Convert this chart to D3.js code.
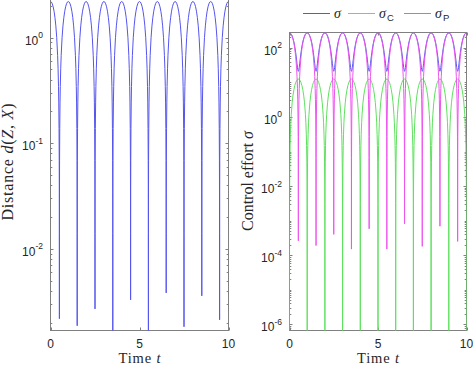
<!DOCTYPE html>
<html><head><meta charset="utf-8">
<script src="https://cdn.jsdelivr.net/npm/d3@7/dist/d3.min.js"></script>
<style>body{margin:0;background:#fff}svg{display:block}</style>
</head><body><svg id="c" width="474" height="366"></svg>
<script>
// ---------------- data ----------------
const xTicks = [0, 5, 10];
const leftYTicks = [-2, -1, 0];           // exponents of labelled decades
const rightYTicks = [-6, -4, -2, 0, 2];
const legendLabels = [["σ", ""], ["σ", "C"], ["σ", "P"]];

// dips of d and sigma_P happen at half-integer times
const halfDips = [0.5, 1.5, 2.5, 3.5, 4.5, 5.5, 6.5, 7.5, 8.5, 9.5];
// dips of sigma_C happen at integer times
const intDips = [0, 1, 2, 3, 4, 5, 6, 7, 8, 9, 10];

// distance from a dip (in t) at which the arch profiles are read
const halfOffsets = [0, 0.002, 0.005, 0.01, 0.02, 0.035, 0.05, 0.075, 0.1, 0.15, 0.2, 0.25, 0.3, 0.35, 0.4, 0.45, 0.5];
// left plot: distance d(Z,X) along a half arch (first entry replaced by the dip minimum)
const dProfile = [0, 0.0139, 0.0345, 0.0691, 0.138, 0.241, 0.344, 0.513, 0.680, 0.999, 1.294, 1.555, 1.780, 1.960, 2.092, 2.174, 2.2];
const dDipMin = [2.18e-3, 1.87e-3, 2.7e-3, 1.0e-3, 3.29e-3, 1.0e-3, 3.83e-3, 1.83e-3, 3.59e-3, 2.13e-3];
// right plot
const sigProfile  = [21, 21.01, 21.06, 21.25, 22.0, 24.0, 27.1, 34.7, 45.0, 72.7, 107.8, 146.5, 185.3, 220.3, 248, 266, 272];
const sigCProfile = [1e-8, 5e-4, 3.08e-3, 0.0123, 0.0493, 0.150, 0.306, 0.681, 1.19, 2.58, 4.32, 6.25, 8.18, 9.92, 11.3, 12.2, 12.5];
const sigPProfile = [0, 0.0108, 0.0670, 0.268, 1.07, 3.27, 6.65, 14.8, 26.0, 56.1, 94.0, 136, 178, 216, 246, 265.5, 272];
const sigPDipMin = [2.6e-4, 1.9e-4, 4.0e-4, 1.5e-4, 5.8e-4, 1.5e-4, 8.1e-4, 1.8e-4, 6.9e-4, 2.5e-4];

const colBlue = "#5555ee", colGreen = "#5fe05f", colMag = "#ee55ee";

// --------------- helpers ----------------
function arches(dips, profile, mins, tMin, tMax) {
  const pts = [];
  dips.forEach((tau, i) => {
    const m = mins ? mins[i] : profile[0];
    for (let j = halfOffsets.length - 1; j >= 0; j--) {
      const t = tau - halfOffsets[j];
      if (t < tMin - 1e-9) continue;
      pts.push([t, j === 0 ? m : profile[j]]);
    }
    for (let j = 1; j < halfOffsets.length; j++) {
      const t = tau + halfOffsets[j];
      if (t > tMax + 1e-9) continue;
      pts.push([t, profile[j]]);
    }
  });
  return pts.filter((p, k) => k === 0 || Math.abs(p[0] - pts[k - 1][0]) > 1e-9);
}

const svg = d3.select("#c");
const axisCol = "#808080", textCol = "#262626";

function panel(id, x0, x1, yTop, yBot, logMin, logMax, labelled, showTop) {
  const x = d3.scaleLinear().domain([0, 10]).range([x0, x1]);
  const y = d3.scaleLog().domain([Math.pow(10, logMin), Math.pow(10, logMax)]).range([yBot, yTop]);
  const g = svg.append("g");
  svg.append("clipPath").attr("id", id).append("rect")
    .attr("x", x0).attr("y", yTop).attr("width", x1 - x0).attr("height", yBot - yTop);
  g.append("rect").attr("x", x0).attr("y", yTop).attr("width", x1 - x0).attr("height", yBot - yTop)
    .attr("fill", "none").attr("stroke", axisCol).attr("stroke-width", 1);
  const lo = Math.floor(logMin), hi = Math.ceil(logMax);
  for (let e = lo; e <= hi; e++) {
    for (let m = 1; m <= 9; m++) {
      const v = m * Math.pow(10, e);
      const lv = Math.log10(v);
      if (lv < logMin || lv > logMax) continue;
      const major = m === 1 && labelled.includes(e);
      const len = major ? 3 : 1.8;
      const yy = Math.round(y(v)) + 0.5;
      g.append("line").attr("x1", x0).attr("x2", x0 + len).attr("y1", yy).attr("y2", yy).attr("stroke", axisCol);
      g.append("line").attr("x1", x1).attr("x2", x1 - len).attr("y1", yy).attr("y2", yy).attr("stroke", axisCol);
    }
  }
  labelled.forEach(e => {
    const yy = y(Math.pow(10, e));
    const t = g.append("text").attr("x", x0 - 7.5).attr("y", yy + 7).attr("text-anchor", "end")
      .attr("font-family", "Liberation Sans, Arial, sans-serif").attr("font-size", 12).attr("fill", textCol);
    t.append("tspan").text("10");
    t.append("tspan").attr("font-size", 8.5).attr("dy", -6.5).text(String(e));
  });
  xTicks.forEach(v => {
    const xx = Math.round(x(v)) + 0.5;
    g.append("line").attr("x1", xx).attr("x2", xx).attr("y1", yBot).attr("y2", yBot - 3).attr("stroke", axisCol);
    if (showTop) g.append("line").attr("x1", xx).attr("x2", xx).attr("y1", yTop).attr("y2", yTop + 3).attr("stroke", axisCol);
    g.append("text").attr("x", x(v)).attr("y", 347.5).attr("text-anchor", "middle")
      .attr("font-family", "Liberation Sans, Arial, sans-serif").attr("font-size", 12).attr("fill", textCol).text(v);
  });
  const xl = g.append("text").attr("x", (x0 + x1) / 2).attr("y", 362.5).attr("text-anchor", "middle")
    .attr("font-family", "Liberation Serif, Times New Roman, serif").attr("font-size", 14.5).attr("fill", textCol)
    .attr("textLength", 42).attr("lengthAdjust", "spacing");
  xl.append("tspan").text("Time ");
  xl.append("tspan").attr("font-style", "italic").text("t");
  return { x, y, g };
}

// --------------- left panel ----------------
const L = panel("clipL", 50.5, 228.5, -1, 330.5, -2.773, 0.366, leftYTicks, false);
const lineL = d3.line().x(d => L.x(d[0])).y(d => L.y(Math.max(d[1], 1e-12)));
svg.append("path").attr("clip-path", "url(#clipL)")
  .attr("d", lineL(arches(halfDips, dProfile, dDipMin, 0, 10)))
  .attr("fill", "none").attr("stroke", colBlue).attr("stroke-width", 1);

const yl = svg.append("text").attr("transform", "translate(13,162) rotate(-90)").attr("text-anchor", "middle")
  .attr("font-family", "Liberation Serif, Times New Roman, serif").attr("font-size", 16).attr("fill", textCol)
  .attr("textLength", 117).attr("lengthAdjust", "spacing");
yl.append("tspan").text("Distance ");
yl.append("tspan").attr("font-style", "italic").text("d");
yl.append("tspan").text("(");
yl.append("tspan").attr("font-style", "italic").text("Z");
yl.append("tspan").text(", ");
yl.append("tspan").attr("font-style", "italic").text("X");
yl.append("tspan").text(")");

// --------------- right panel ----------------
const R = panel("clipR", 289.5, 466.5, 32.5, 330.5, -6.18, 2.445, rightYTicks, true);
const lineR = d3.line().x(d => R.x(d[0])).y(d => R.y(Math.max(d[1], 1e-12)));
const series = [
  { pts: arches(halfDips, sigProfile, null, 0, 10), col: colBlue },
  { pts: arches(intDips, sigCProfile, null, 0, 10), col: colGreen },
  { pts: arches(halfDips, sigPProfile, sigPDipMin, 0, 10), col: colMag }
];
series.forEach(s => {
  svg.append("path").attr("clip-path", "url(#clipR)").attr("d", lineR(s.pts))
    .attr("fill", "none").attr("stroke", s.col).attr("stroke-width", 1);
});

const yr = svg.append("text").attr("transform", "translate(253,181) rotate(-90)").attr("text-anchor", "middle")
  .attr("font-family", "Liberation Serif, Times New Roman, serif").attr("font-size", 16).attr("fill", textCol);
yr.append("tspan").text("Control effort ");
yr.append("tspan").attr("font-style", "italic").text("σ");

// legend
const legX = [303, 348, 404];
const legCols = [colBlue, colGreen, colMag];
legendLabels.forEach((lab, i) => {
  svg.append("rect").attr("x", legX[i]).attr("y", 13).attr("width", 27).attr("height", 1)
    .attr("fill", legCols[i]);
  const t = svg.append("text").attr("x", legX[i] + 31).attr("y", 17.5)
    .attr("font-family", "Liberation Serif, Times New Roman, serif").attr("font-size", 14).attr("fill", textCol);
  t.append("tspan").attr("font-style", "italic").text(lab[0]);
  if (lab[1]) t.append("tspan").attr("font-family", "Liberation Sans, Arial, sans-serif")
    .attr("font-size", 9.5).attr("dy", 3).attr("dx", 1).text(lab[1]);
});
</script></body></html>
